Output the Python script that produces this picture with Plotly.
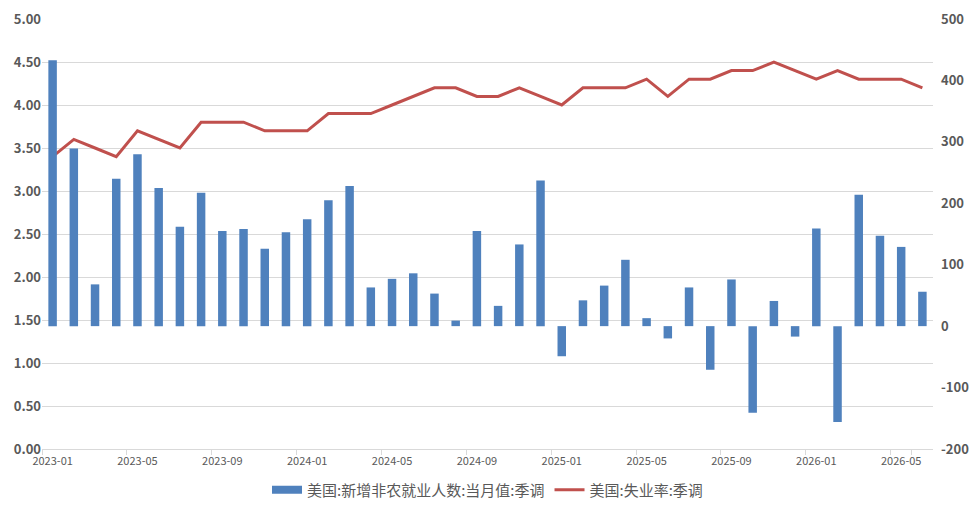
import plotly.graph_objects as graph_objects
from plotly.subplots import make_subplots

# 月份（2023-01 ～ 2026-06）
months = ['2023-01', '2023-02', '2023-03', '2023-04', '2023-05', '2023-06', '2023-07', '2023-08',
          '2023-09', '2023-10', '2023-11', '2023-12', '2024-01', '2024-02', '2024-03', '2024-04',
          '2024-05', '2024-06', '2024-07', '2024-08', '2024-09', '2024-10', '2024-11', '2024-12',
          '2025-01', '2025-02', '2025-03', '2025-04', '2025-05', '2025-06', '2025-07', '2025-08',
          '2025-09', '2025-10', '2025-11', '2025-12', '2026-01', '2026-02', '2026-03', '2026-04',
          '2026-05', '2026-06']

# 新增非农就业人数（千人，右轴）
payrolls = [433, 289, 68, 240, 280, 225, 162, 217,
            155, 158, 126, 153, 174, 205, 228, 63,
            77, 86, 53, 9, 155, 33, 133, 237,
            -49, 42, 66, 108, 13, -20, 63, -71,
            76, -141, 41, -17, 159, -156, 214, 147,
            129, 56]

# 失业率（%，左轴）
unemployment = [3.4, 3.6, 3.5, 3.4, 3.7, 3.6, 3.5, 3.8,
                3.8, 3.8, 3.7, 3.7, 3.7, 3.9, 3.9, 3.9,
                4.0, 4.1, 4.2, 4.2, 4.1, 4.1, 4.2, 4.1,
                4.0, 4.2, 4.2, 4.2, 4.3, 4.1, 4.3, 4.3,
                4.4, 4.4, 4.5, 4.4, 4.3, 4.4, 4.3, 4.3,
                4.3, 4.2]

tick_months = months[::4]

# 右軸の目盛（マイナスは半角ハイフンで表示）
right_ticks = [-200, -100, 0, 100, 200, 300, 400, 500]
right_tick_text = ['-200', '-100', '0', '100', '200', '300', '400', '500']

bar_name = '美国:新增非农就业人数:当月值:季调'
line_name = '美国:失业率:季调'
bar_color = '#4F81BD'
line_color = '#C0504D'

font_family = 'Microsoft YaHei, Noto Sans CJK SC, DejaVu Sans'
grey = '#595959'

figure = make_subplots(rows = 1, cols = 1, specs = [[{'secondary_y' : True}]])

figure.add_trace(graph_objects.Bar(x = months, y = payrolls, name = bar_name, showlegend = False,
                                   marker = dict(color = bar_color, line = dict(width = 0)),
                                   width = 0.4),
                 secondary_y = True)
# 凡例を横長の矩形にするためのダミー
figure.add_trace(graph_objects.Scatter(x = [None], y = [None], name = bar_name, mode = 'lines',
                                       line = dict(color = bar_color, width = 8)),
                 secondary_y = True)
figure.add_trace(graph_objects.Scatter(x = months, y = unemployment, name = line_name,
                                       mode = 'lines', line = dict(color = line_color, width = 3)),
                 secondary_y = False)

# make_subplotsは右軸用にdomainを縮めるので全幅に戻す
figure.update_xaxes(domain = [0, 1], type = 'category', tickvals = tick_months, ticktext = tick_months,
                    tickson = 'boundaries', ticks = 'outside', ticklen = 5, tickcolor = '#D9D9D9',
                    tickangle = 0, automargin = False, ticklabelstandoff = 2,
                    showgrid = False, showline = True, linecolor = '#D9D9D9', linewidth = 1,
                    tickfont = dict(size = 11, color = grey, family = font_family))
figure.update_yaxes(range = [0, 5], dtick = 0.5, tickformat = '.2f', showgrid = True,
                    gridcolor = '#D9D9D9', gridwidth = 1, zeroline = False,
                    automargin = False, ticklabeloverflow = 'allow',
                    tickfont = dict(size = 13, color = grey, family = font_family, weight = 'bold'),
                    secondary_y = False)
figure.update_yaxes(range = [-200, 500], tickvals = right_ticks, ticktext = right_tick_text,
                    showgrid = False, zeroline = False,
                    automargin = False, ticklabeloverflow = 'allow', ticklabelstandoff = 7,
                    tickfont = dict(size = 13, color = grey, family = font_family, weight = 'bold'),
                    secondary_y = True)

# ページ本体の余白(8px)を見込んだサイズ
figure.update_layout(width = 961, height = 509, plot_bgcolor = 'white', paper_bgcolor = 'white',
                     margin = dict(l = 34, r = 36, t = 11, b = 47),
                     showlegend = True,
                     legend = dict(orientation = 'h', x = 0.5, xanchor = 'center', y = -0.0953, yanchor = 'middle',
                                   font = dict(size = 15, color = grey, family = font_family),
                                   itemwidth = 30, traceorder = 'normal'),
                     font = dict(family = font_family))

figure.write_html('out.html')
